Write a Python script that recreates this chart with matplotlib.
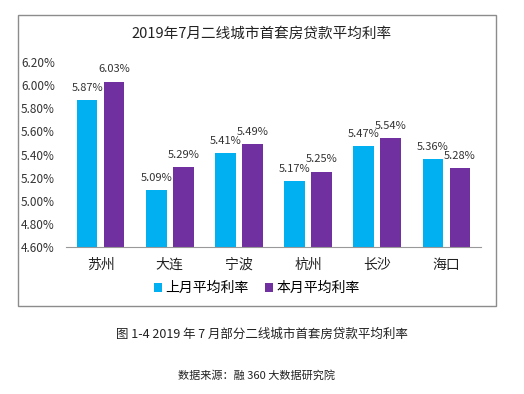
import matplotlib.pyplot as plt
import matplotlib.patches as patches
import numpy as np

plt.rcParams['font.family'] = ['Noto Sans CJK SC', 'DejaVu Sans']

cities = ["苏州", "大连", "宁波", "杭州", "长沙", "海口"]
last_month = [5.87, 5.09, 5.41, 5.17, 5.47, 5.36]
this_month = [6.03, 5.29, 5.49, 5.25, 5.54, 5.28]
yticks = [4.60, 4.80, 5.00, 5.20, 5.40, 5.60, 5.80, 6.00, 6.20]

blue = "#00B0F0"
purple = "#7030A0"

fig = plt.figure(figsize=(5.24, 3.94), dpi=100)

# outer chart border
fig.patches.append(patches.Rectangle((18 / 524, 1 - 306 / 394), 478 / 524, 291 / 394,
                                     transform=fig.transFigure, fill=False,
                                     edgecolor="#8c8c8c", linewidth=1.0))

ax = fig.add_axes([66 / 524, 1 - 247 / 394, 415 / 524, 185 / 394])
x = np.arange(len(cities))
w = 0.30
off = 0.195
b1 = ax.bar(x - off, last_month, w, color=blue, label="上月平均利率")
b2 = ax.bar(x + off, this_month, w, color=purple, label="本月平均利率")

for bars, vals in ((b1, last_month), (b2, this_month)):
    for b, v in zip(bars, vals):
        ax.text(b.get_x() + b.get_width() / 2, v + 0.065, "%.2f%%" % v,
                ha="center", va="bottom", fontsize=8, color="#333333")

ax.set_xlim(-0.5, len(cities) - 0.5)
ax.set_ylim(4.6, 6.2)
ax.set_yticks(yticks)
ax.set_yticklabels(["%.2f%%" % t for t in yticks], fontsize=8.5, color="#333333")
ax.set_xticks(x)
ax.set_xticklabels(cities, fontsize=10, color="#222222")
ax.tick_params(axis="both", length=0)
ax.tick_params(axis="y", pad=8)
ax.tick_params(axis="x", pad=8)
for s in ("top", "right", "left"):
    ax.spines[s].set_visible(False)
ax.spines["bottom"].set_color("#999999")

fig.text(0.5, 1 - 34 / 394, "2019年7月二线城市首套房贷款平均利率", ha="center", va="center",
         fontsize=10.5, color="#222222")

fig.legend(handles=[b1, b2], loc="center", bbox_to_anchor=(0.49, 1 - 288 / 394), ncol=2,
           frameon=False, fontsize=10, handlelength=0.6, handleheight=0.6,
           handletextpad=0.2, columnspacing=1.2)

fig.text(0.5, 1 - 334 / 394, "图 1-4 2019 年 7 月部分二线城市首套房贷款平均利率", ha="center",
         va="center", fontsize=9, color="#222222")
fig.text(0.49, 1 - 375 / 394, "数据来源：融 360 大数据研究院", ha="center", va="center",
         fontsize=8, color="#222222")

fig.savefig("out.png", dpi=100)
